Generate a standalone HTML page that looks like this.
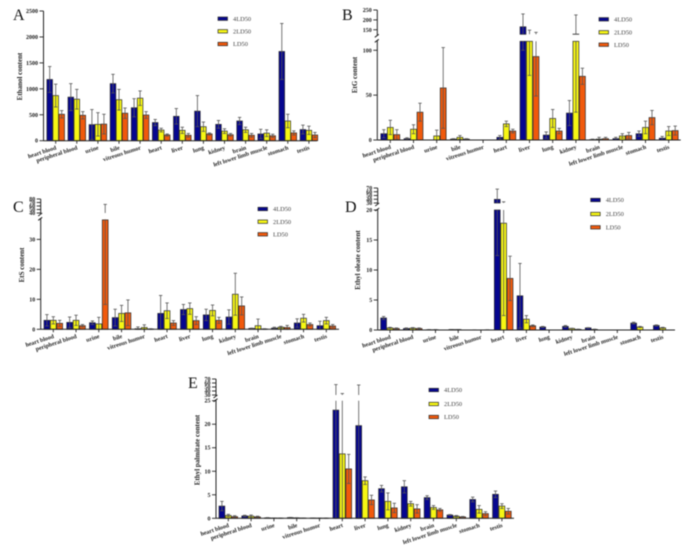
<!DOCTYPE html>
<html>
<head>
<meta charset="utf-8">
<title>Ethanol metabolite content by tissue</title>
<style>
html,body{margin:0;padding:0;background:#fff;}
#figure{display:block;width:685px;height:556px;filter:blur(0.5px);}
text{font-family:"Liberation Serif",serif;}
</style>
</head>
<body>
<svg id="figure" xmlns="http://www.w3.org/2000/svg" width="685" height="556" viewBox="0 0 685 556"></svg>
<script>
const categories = ["heart blood","peripheral blood","urine","bile","vitreous humor","heart","liver","lung","kidney","brain","left lower limb muscle","stomach","testis"];
const seriesNames = ["4LD50","2LD50","LD50"];

const aTicks = [0,500,1000,1500,2000,2500];
const aValue4 = [1180,840,310,1100,635,350,470,570,315,380,130,1720,215];
const aTop4   = [1430,1100,600,1280,810,410,620,870,390,450,220,2260,300];
const aValue2 = [870,800,315,790,820,205,200,270,185,210,145,380,200];
const aTop2   = [1090,990,540,990,960,240,260,360,230,260,210,510,280];
const aValue1 = [510,490,320,530,495,110,105,130,115,105,95,150,110];
const aTop1   = [580,560,510,630,560,130,140,150,140,140,125,190,160];

const bTicks = [0,50,100,150,200,250];
const bValue4 = [7,1.5,0,1,0,3,165,5.5,30,0.5,1.5,7,2];
const bTop4   = [11.5,2.5,0,1.5,0,5,230,9,44,1,3,10,4];
const bValue2 = [14,12,4.5,3,0,18,110,24,128,1,4.5,14,10];
const bTop2   = [22,17,11,5,0,21,148,34,225,3,7,21,15];
const bValue1 = [6,31,58,1,0,10,93,10,71,1.5,5,25,10.5];
const bTop1   = [11.5,41,103,1.5,0,12,137,13,80,3,8.5,33,15.5];

const cTicks = [0,10,20,30,40,50,60,70,80];
const cValue4 = [3,2.3,2.2,3.9,0.2,5.3,6.6,4.8,4.1,0.3,0.4,2.1,1.2];
const cTop4   = [4.9,4.1,2.8,6.7,0.8,11.3,8.3,6.7,6.5,0.4,0.7,3.5,2.7];
const cValue2 = [3,3,1.8,5.3,0.6,6.2,6.9,6.3,11.7,1.2,0.7,3.7,2.9];
const cTop2   = [4.2,4.7,4,8,1.5,8.8,8.8,8.1,18.7,3.4,1,5,4];
const cValue1 = [2,1.2,36.5,5.5,0.1,2.1,2.9,3,7.8,0.1,0.6,1.6,1.1];
const cTop1   = [3,1.6,64.7,9.8,0.2,2.9,4.2,4,10.8,0.2,1.3,2.1,1.6];

const dTicks = [0,5,10,15,20,30,40,50,60,70];
const dValue4 = [2,0.25,0.05,0.08,0.02,39.7,5.7,0.5,0.6,0.35,0,1.15,0.75];
const dTop4   = [2.25,0.35,0.07,0.1,0.03,67,11.1,0.6,0.75,0.4,0,1.3,0.85];
const dValue2 = [0.35,0.3,0.05,0.08,0,17.8,1.8,0,0.25,0.1,0,0.5,0.35];
const dTop2   = [0.45,0.4,0.06,0.1,0,33.2,2.4,0,0.3,0.15,0,0.6,0.45];
const dValue1 = [0.25,0.25,0,0,0.03,8.6,0.7,0,0.1,0,0,0,0];
const dTop1   = [0.35,0.35,0,0,0.04,12.3,0.85,0,0.15,0,0,0,0];

const eTicks = [0,5,10,15,20,25,30,40,50,60,70];
const eValue4 = [2.6,0.5,0.1,0.15,0.05,23,19.7,6.3,6.7,4.4,0.7,4,5.1];
const eTop4   = [3.6,0.65,0.15,0.2,0.06,56,55,7,8,4.8,0.8,4.5,5.8];
const eValue2 = [0.6,0.45,0.05,0.1,0.02,13.7,8,3.6,3.1,2.3,0.45,1.9,2.6];
const eTop2   = [0.85,0.7,0.06,0.12,0.03,33.7,8.8,5.4,3.6,2.7,0.6,2.7,3.1];
const eValue1 = [0.35,0.3,0.03,0.05,0.02,10.5,3.9,2.2,2,1.8,0.3,1,1.5];
const eTop1   = [0.55,0.45,0.04,0.06,0.03,13.6,4.9,3.2,2.9,2.1,0.4,1.4,2.1];

const NS = "http://www.w3.org/2000/svg";
const fills = ["#06068f","#f6f614","#f0590c"];
const root = document.getElementById("figure");

function make(parent, tag, attrs, txt){
  const el = document.createElementNS(NS, tag);
  for (const k in attrs) el.setAttribute(k, attrs[k]);
  if (txt !== undefined) el.textContent = txt;
  parent.appendChild(el);
  return el;
}

function drawPanel(p){
  const g = make(root, "g", {});
  
  

  function y(v){
    const b = p.brk;
    if (!b) return p.y0 - v * (p.y0 - p.yTop) / p.max;
    if (v <= b.lowMax) return p.y0 - v * (p.y0 - b.lowY) / b.lowMax;
    return b.upMinY - (v - b.upMin) * (b.upMinY - b.upMaxY) / (b.upMax - b.upMin);
  }
  function x(i){ return p.x0 + i * p.step; }

  const letter = make(g, "text", {x:p.lx, y:p.ly, "font-size":16, fill:"#111"}, p.letter);
  
  

  const title = make(g, "text", {transform:"translate("+p.tx+","+p.ty+") rotate(-90)", "text-anchor":"middle", "font-size":7, "font-weight":"bold", fill:"#222"}, p.title);
  
  

  categories.forEach(function(name, i){
    p.series.forEach(function(s, k){
      const cx = x(i) + (k - 1) * p.barStep;
      const w = p.barW;
      const v = s.value[i];
      const top = s.top[i];
      if (v <= 0) return;
      const b = p.brk;
      const low = b ? Math.min(v, b.lowMax) : v;
      const bar = make(g, "rect", {x:cx - w/2, y:y(low), width:w, height:p.y0 - y(low), fill:fills[k], stroke:"#2a2a2a", "stroke-width":0.7});
      
      
      if (b && v >= b.upMin) {
        const upper = make(g, "rect", {x:cx - w/2, y:y(v), width:w, height:b.upMinY - y(v), fill:fills[k], stroke:"#2a2a2a", "stroke-width":0.7});
        
        
      }
      const lowEnd = Math.max(0, 2 * v - top);
      const eg = make(g, "g", {stroke:"#555", "stroke-width":0.8, fill:"none"});
      
      
      if (b && top > b.lowMax) {
        make(eg, "line", {x1:cx, x2:cx, y1:y(Math.min(lowEnd, b.lowMax)), y2:b.lowY});
        if (top >= b.upMin) make(eg, "line", {x1:cx, x2:cx, y1:b.upMinY, y2:y(top)});
      } else {
        make(eg, "line", {x1:cx, x2:cx, y1:y(lowEnd), y2:y(top)});
      }
      make(eg, "line", {x1:cx - 1.7, x2:cx + 1.7, y1:y(top), y2:y(top)});
      if (lowEnd <= (b ? b.lowMax : Infinity)) make(eg, "line", {x1:cx - 1.7, x2:cx + 1.7, y1:y(lowEnd), y2:y(lowEnd)});
    });
  });

  const axisTop = p.brk ? p.brk.lowY - 1 : p.yTop;
  const yAxis = make(g, "line", {x1:p.ax, x2:p.ax, y1:p.y0, y2:axisTop, stroke:"#222", "stroke-width":1});
  
  
  const xAxis = make(g, "line", {x1:p.ax, x2:p.axEnd, y1:p.y0, y2:p.y0, stroke:"#222", "stroke-width":1});
  
  

  if (p.brk) {
    const b = p.brk;
    const up = make(g, "line", {x1:p.ax, x2:p.ax, y1:b.upMinY + 1, y2:b.upMaxY, stroke:"#222", "stroke-width":1});
    
    
    const s1 = make(g, "line", {x1:p.ax - 2.5, x2:p.ax + 1.5, y1:b.upMinY + 3, y2:b.upMinY, stroke:"#222", "stroke-width":1});
    
    
    const s2 = make(g, "line", {x1:p.ax - 2.5, x2:p.ax + 1.5, y1:b.lowY + 1, y2:b.lowY - 2, stroke:"#222", "stroke-width":1});
    
    
  }

  p.ticks.forEach(function(t){
    const ty = y(t);
    const tick = make(g, "line", {x1:p.ax - 4, x2:p.ax, y1:ty, y2:ty, stroke:"#222", "stroke-width":0.9});
    
    
    const lab = make(g, "text", {x:p.ax - 5.5, y:ty + 2, "text-anchor":"end", "font-size":6, "font-weight":"bold", fill:"#222"}, String(t));
    
    
  });

  categories.forEach(function(name, i){
    const tx = x(i);
    const tick = make(g, "line", {x1:tx, x2:tx, y1:p.y0, y2:p.y0 + 3, stroke:"#222", "stroke-width":0.9});
    
    
    const lab = make(g, "text", {transform:"translate("+(tx + 1)+","+(p.y0 + 8.5)+") rotate(-18)", "text-anchor":"end", "font-size":6, "font-weight":"bold", fill:"#222"}, name);
    
    
  });

  seriesNames.forEach(function(name, k){
    const sw = make(g, "rect", {x:p.legX, y:p.legY[k] - 1.7, width:9.5, height:3.4, fill:fills[k], stroke:"#2a2a2a", "stroke-width":0.7});
    
    
    const lt = make(g, "text", {x:p.legX + 15, y:p.legY[k] + 2.2, "font-size":6.4, fill:"#444"}, name);
    
    
  });
}

drawPanel({letter:"A", lx:13, ly:20, title:"Ethanol content", tx:22, ty:76.5, ticks:aTicks,
  ax:43.5, axEnd:317, y0:140.7, yTop:11, max:2500, x0:55.7, step:21.1, barStep:6, barW:5.6,
  legX:218, legY:[18.7,31.3,44],
  series:[{value:aValue4,top:aTop4},{value:aValue2,top:aTop2},{value:aValue1,top:aTop1}]});

drawPanel({letter:"B", lx:342, ly:20, title:"EtG content", tx:357, ty:75, ticks:bTicks,
  ax:377.3, axEnd:680.7, y0:140, x0:390.3, step:23.2, barStep:6.5, barW:5.9,
  brk:{lowMax:110, lowY:41.3, upMin:127, upMinY:34.3, upMax:250, upMaxY:10},
  legX:599, legY:[19.3,32.3,44.7],
  series:[{value:bValue4,top:bTop4},{value:bValue2,top:bTop2},{value:bValue1,top:bTop1}]});

drawPanel({letter:"C", lx:13, ly:212, title:"EtS content", tx:24, ty:265, ticks:cTicks,
  ax:40.7, axEnd:339, y0:329.3, x0:53.3, step:22.75, barStep:6.4, barW:5.8,
  brk:{lowMax:36.7, lowY:219.3, upMin:40, upMinY:213, upMax:80, upMaxY:199},
  legX:258, legY:[209,221.7,234.3],
  series:[{value:cValue4,top:cTop4},{value:cValue2,top:cTop2},{value:cValue1,top:cTop1}]});

drawPanel({letter:"D", lx:345, ly:212, title:"Ethyl oleate content", tx:360, ty:260, ticks:dTicks,
  ax:377.7, axEnd:675, y0:330, x0:390, step:22.73, barStep:6.4, barW:5.8,
  brk:{lowMax:20, lowY:210, upMin:30, upMinY:203, upMax:70, upMaxY:188},
  legX:590.7, legY:[200,214,227.3],
  series:[{value:dValue4,top:dTop4},{value:dValue2,top:dTop2},{value:dValue1,top:dTop1}]});

drawPanel({letter:"E", lx:188, ly:388, title:"Ethyl palmitate content", tx:199.5, ty:450, ticks:eTicks,
  ax:216, axEnd:514, y0:518.3, x0:228.3, step:22.8, barStep:6.4, barW:5.8,
  brk:{lowMax:25, lowY:400.7, upMin:30, upMinY:395, upMax:70, upMaxY:379},
  legX:429, legY:[390,404,417],
  series:[{value:eValue4,top:eTop4},{value:eValue2,top:eTop2},{value:eValue1,top:eTop1}]});
</script>
</body>
</html>
